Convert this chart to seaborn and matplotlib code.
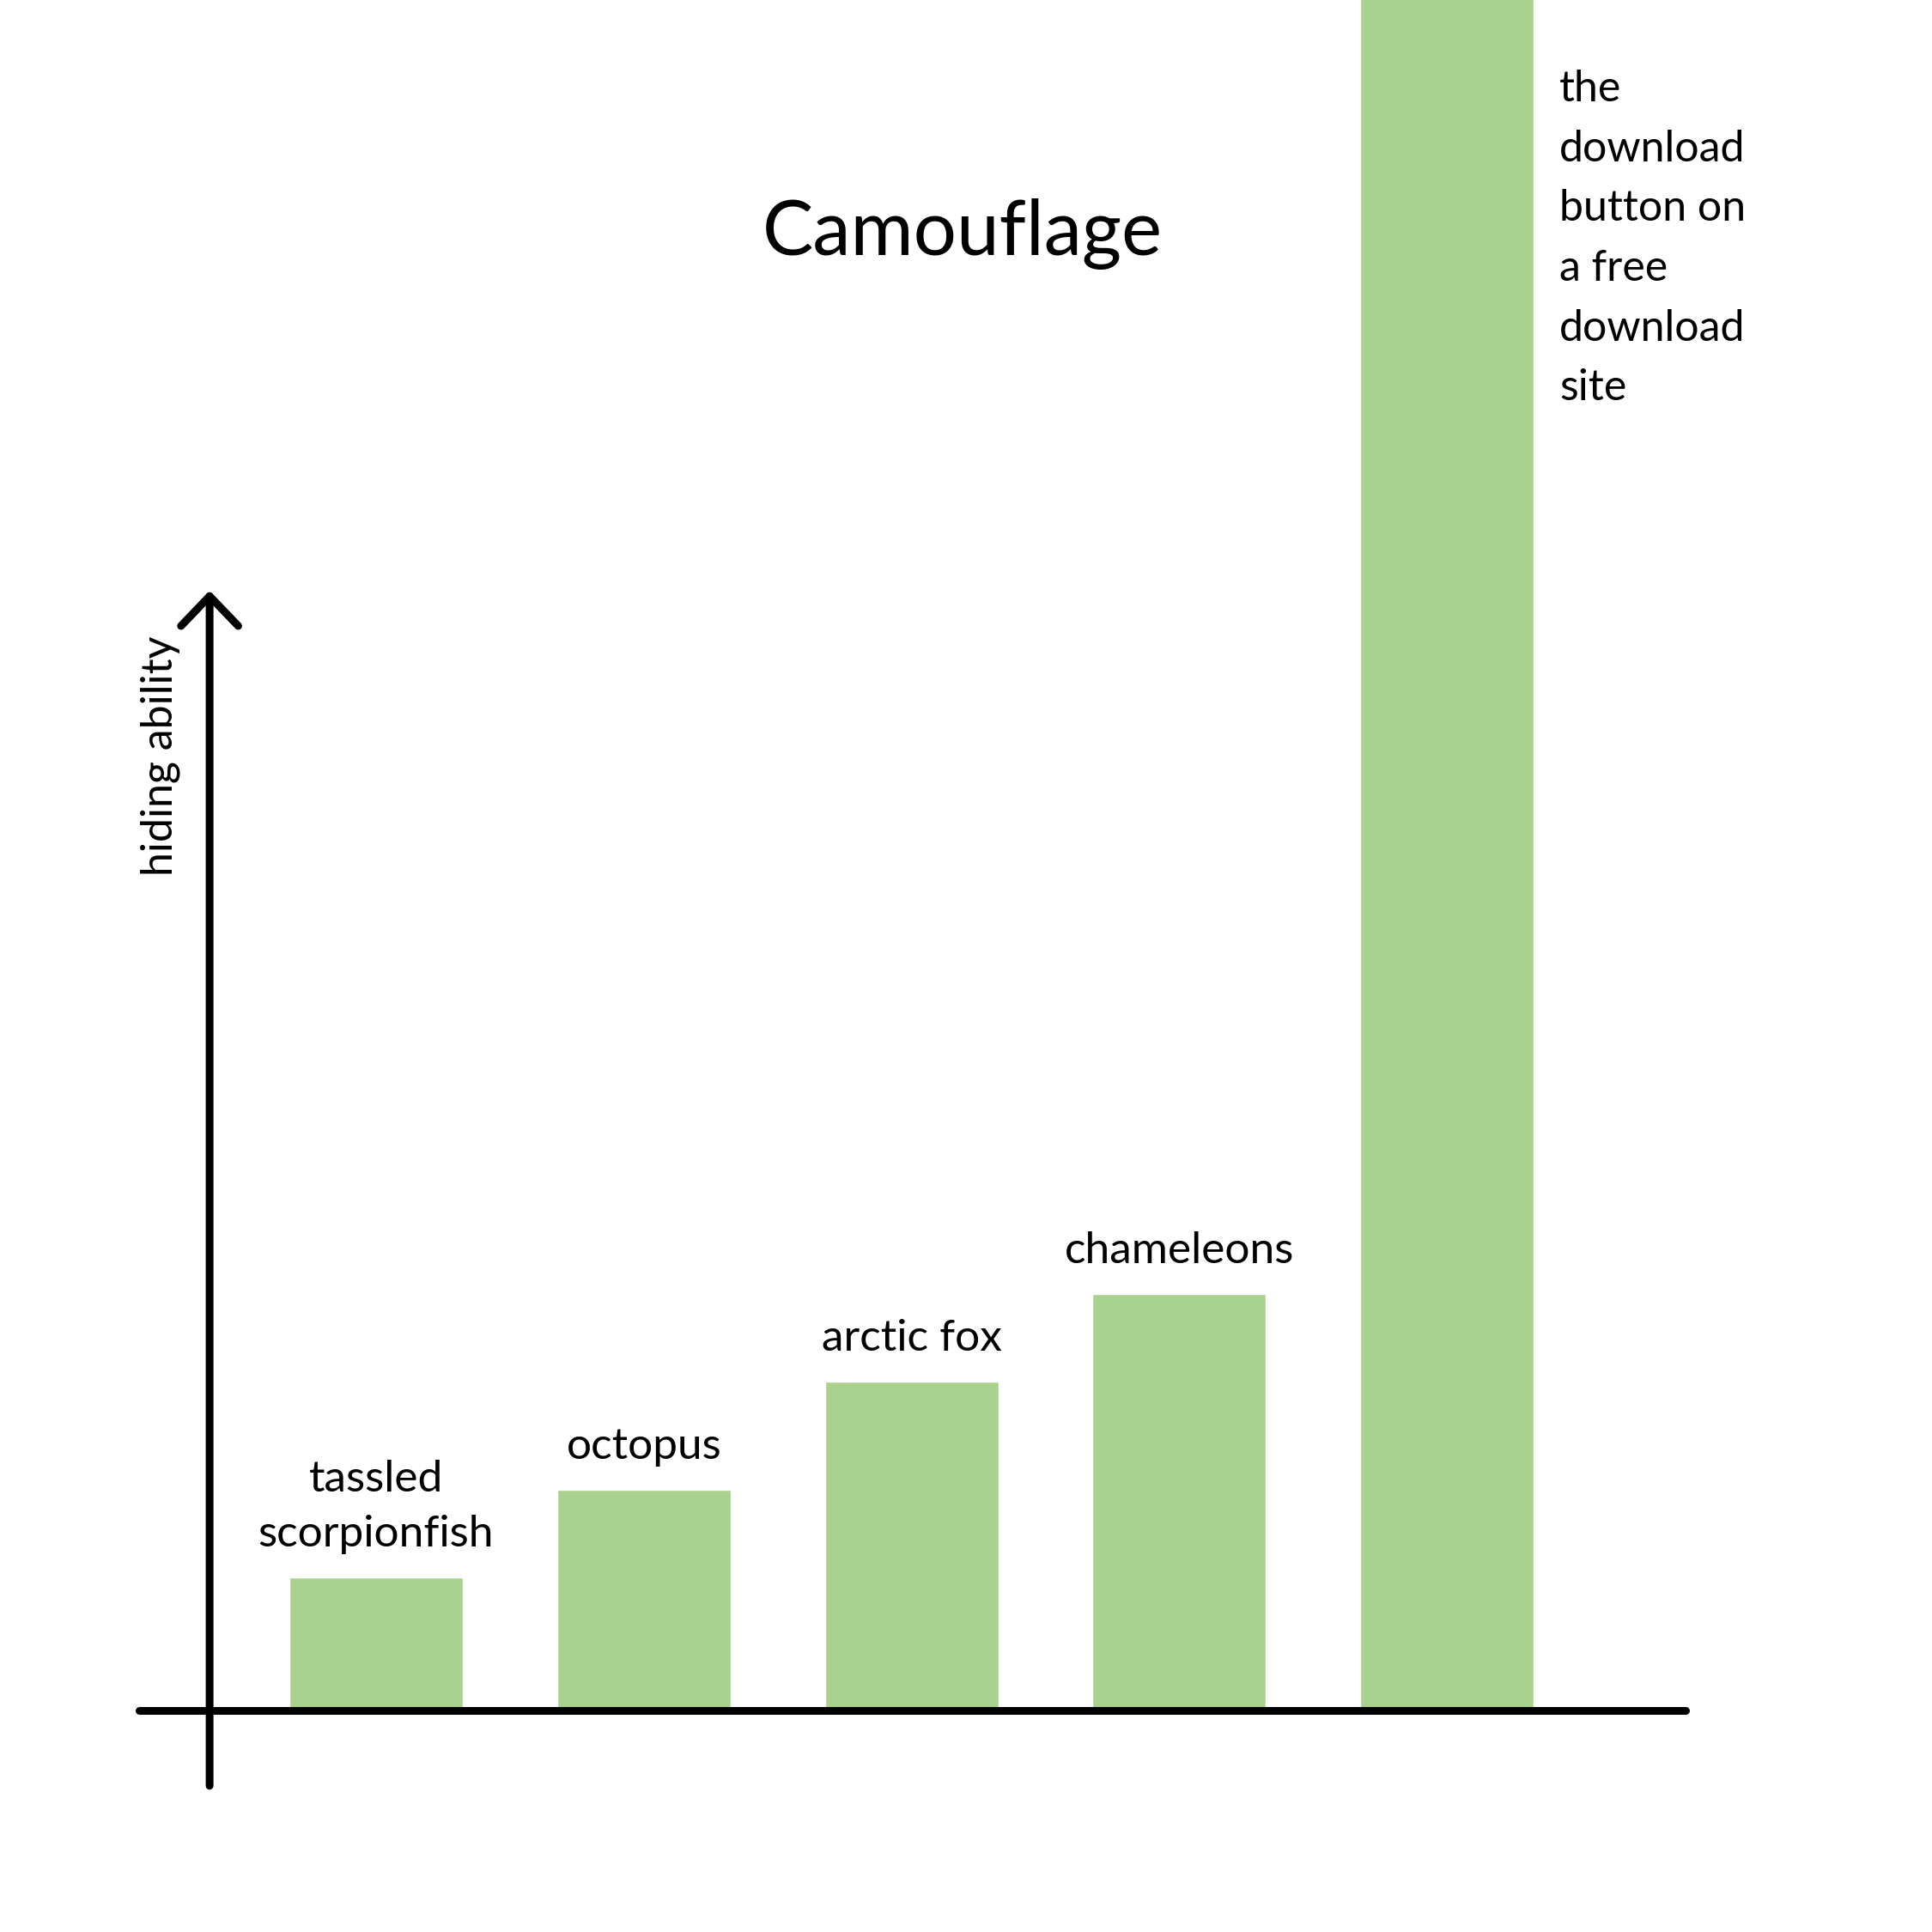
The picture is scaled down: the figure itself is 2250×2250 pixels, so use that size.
import matplotlib
matplotlib.use("Agg")
import matplotlib.pyplot as plt
import seaborn as sns
import pandas as pd

# chart data
animals = ["tassled\nscorpionfish", "octopus", "arctic fox", "chameleons",
           "the\ndownload\nbutton on\na free\ndownload\nsite"]
hiding_ability = [3.2, 5.3, 7.9, 10.0, 45.0]
title = "Camouflage"
y_label = "hiding ability"
bar_color = "#a8d28d"

sns.set_theme(style="white")
plt.rcParams["font.family"] = ["Lato", "DejaVu Sans"]
plt.rcParams["text.color"] = "black"

df = pd.DataFrame({"animal": animals, "hiding": hiding_ability})

fig = plt.figure(figsize=(22.5, 22.5), dpi=100)
ax = fig.add_axes([0, 0, 1, 1])

sns.barplot(data=df, x="animal", y="hiding", color=bar_color, saturation=1,
            width=0.648, ax=ax, zorder=1)

ax.set_xlim(-1.405, 5.812)
ax.set_ylim(-5.32, 41.07)
ax.axis("off")

# hand-drawn style axes
ax.plot([-0.885, 4.892], [0, 0], color="black", lw=6.5,
        solid_capstyle="round", zorder=3)
ax.annotate("", xy=(-0.622, 26.89), xytext=(-0.622, -1.81),
            arrowprops=dict(arrowstyle="->,head_length=25,head_width=24",
                            mutation_scale=1, lw=6.5, color="black",
                            shrinkA=0, shrinkB=0, capstyle="round",
                            joinstyle="round"),
            zorder=3)

# labels over the bars, the last one sits beside its bar
for i, (name, val) in enumerate(zip(animals, hiding_ability)):
    if i < len(animals) - 1:
        ax.text(i, val + 0.55, name, ha="center", va="bottom",
                fontsize=37, linespacing=1.5, color="black")
    else:
        ax.text(i + 0.42, 39.4, name, ha="left", va="top",
                fontsize=36, linespacing=1.64, color="black")

ax.text(2.19, 35.46, title, ha="center", va="center", fontsize=64,
        color="black")
ax.text(-0.805, 22.93, y_label, ha="center", va="center", rotation=90,
        fontsize=36, color="black")

fig.savefig("out.png", dpi=100, facecolor="white")
